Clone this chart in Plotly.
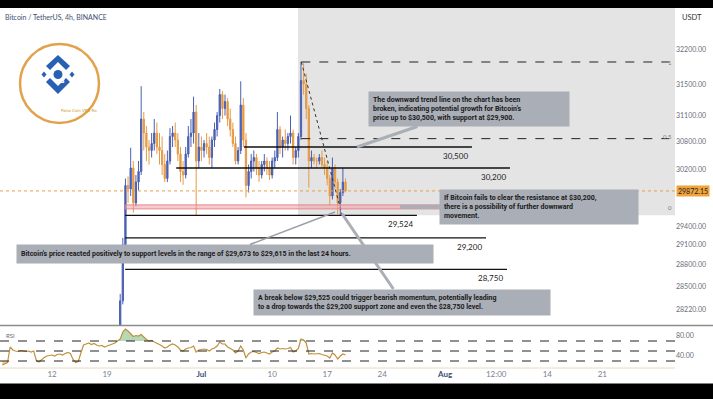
import pandas as pd
import plotly.graph_objects as go

# ---------------- data ----------------
candle_start = "2023-06-20 16:00"
first_open = 27100
highs = [28400, 29200, 30050, 30080, 30490, 30300, 30100, 30300, 31370, 31000,
         30800, 30600, 30700, 30900, 30850, 30700, 30650, 30400, 30450, 30770,
         30800, 30850, 30700, 30500, 30300, 30500, 30800, 30900, 31220, 31100,
         30700, 30650, 30600, 30700, 30650, 30650, 30850, 31000, 31330, 31300,
         31250, 31200, 31050, 30850, 30650, 30500, 31440, 31200, 30700, 30250,
         30400, 30450, 30400, 30300, 30300, 30400, 30350, 30300, 30350, 30450,
         31000, 30800, 30650, 30750, 30700, 30950, 30750, 30500, 30700, 31720,
         31700, 31550, 31100, 30450, 30400, 30350, 30400, 30450, 30350, 30300,
         30100, 30350, 30250, 30050, 29900, 30200, 30050]
lows = [27000, 28250, 28950, 29700, 29800, 29560, 29650, 29880, 30100, 30450,
        30300, 30250, 30350, 30450, 30400, 30250, 30100, 30000, 30000, 30250,
        30500, 30500, 30300, 30000, 29960, 30050, 30350, 30500, 30550, 29520,
        30200, 30300, 30350, 30400, 30250, 30200, 30500, 30650, 30850, 30900,
        30950, 30800, 30650, 30500, 30250, 30250, 30400, 30500, 29780, 29850,
        30050, 30150, 30100, 30000, 30050, 30150, 30100, 30030, 30050, 30200,
        30300, 30400, 30350, 30450, 30450, 30550, 30250, 30250, 30350, 30600,
        31250, 30900, 29920, 30200, 30250, 30200, 30250, 30200, 30100, 29950,
        29670, 29750, 29900, 29540, 29520, 29800, 29850]
closes = [28300, 29100, 29950, 29900, 30200, 29700, 30000, 30150, 30900, 30700,
          30500, 30450, 30550, 30700, 30500, 30450, 30250, 30050, 30300, 30650,
          30700, 30600, 30400, 30150, 30100, 30400, 30650, 30700, 31000, 30300,
          30500, 30450, 30550, 30500, 30350, 30600, 30750, 30950, 31250, 31050,
          31150, 30900, 30750, 30550, 30300, 30450, 31100, 30600, 29950, 30150,
          30300, 30350, 30200, 30100, 30250, 30300, 30200, 30100, 30300, 30350,
          30750, 30500, 30600, 30550, 30650, 30700, 30350, 30450, 30650, 31450,
          31400, 31050, 30300, 30350, 30300, 30300, 30350, 30250, 30200, 30050,
          29800, 30200, 30000, 29700, 29850, 30000, 29872.15]

rsi_start = "2023-06-05 16:00"
rsi = [22, 24, 27, 58, 52, 50, 49, 51, 50, 49, 50, 48, 50, 31, 28, 33,
       37, 40, 41, 42, 40, 43, 44, 42, 45, 47, 45, 33, 27, 29, 46,
       62, 64, 66, 63, 65, 62, 60, 61, 58, 60, 62, 64, 66, 70, 74,
       88, 94, 90, 84, 79, 81, 80, 83, 77, 73, 70, 71, 68, 66, 63,
       60, 56, 58, 62, 64, 62, 58, 52, 50, 54, 56, 57, 60, 48, 52,
       53, 54, 53, 50, 54, 56, 60, 68, 64, 64, 58, 55, 52, 46, 50,
       60, 52, 36, 44, 48, 49, 47, 45, 47, 48, 46, 44, 48, 50, 56,
       54, 55, 54, 55, 57, 48, 50, 55, 74, 72, 66, 44, 45, 44, 44,
       45, 43, 42, 40, 36, 46, 42, 34, 40, 44, 42]

last_price = 29872.15
levels = [30500, 30200, 29524, 29200, 28750]
level_labels = ["30,500", "30,200", "29,524", "29,200", "28,750"]
level_start = ["2023-07-06 10:00", "2023-06-27 19:00", "2023-06-21 07:00",
               "2023-06-21 07:00", "2023-06-21 07:00"]
level_end = ["2023-08-04 10:00", "2023-08-09 06:00", "2023-07-28 10:00",
             "2023-08-06 05:00", "2023-08-08 21:00"]
zone_low, zone_high = 29615, 29673
fib_high, fib_mid, fib_low = 31716, 30620, 29524

price_ticks = ["32200.00", "31500.00", "31100.00", "30800.00", "30200.00",
               "29400.00", "29100.00", "28800.00", "28500.00", "28220.00"]
price_tick_pos = [31887, 31387, 30944, 30572, 30171, 29356, 29099, 28813, 28498, 28169]

date_tick_labels = ["12", "19", "Jul", "10", "17", "24", "Aug", "12:00", "14", "21"]
date_tick_pos = ["2023-06-12", "2023-06-19", "2023-07-01", "2023-07-10", "2023-07-17",
                 "2023-07-24", "2023-08-01", "2023-08-07 12:00", "2023-08-14", "2023-08-21"]

# ---------------- build ----------------
ct = pd.date_range(candle_start, periods=len(closes), freq="8h")
opens = [first_open] + closes[:-1]
rt = pd.date_range(rsi_start, periods=len(rsi), freq="8h")

X0, X1 = "2023-06-05 09:00", "2023-08-30 06:00"
W, H = 675, 360  # plot area in px
def px(x): return x / W
def py(y): return (368 - y) / H
def P(x, y): return f"{px(x):.4f},{py(y):.4f}"

fig = go.Figure()

fig.add_trace(go.Candlestick(
    x=ct, open=opens, high=highs, low=lows, close=closes,
    increasing=dict(line=dict(color="#4b60b2", width=1), fillcolor="#4b60b2"),
    decreasing=dict(line=dict(color="#e59a45", width=1), fillcolor="#e59a45"),
    whiskerwidth=0, xaxis="x", yaxis="y", hoverinfo="skip"))

# RSI fills
fig.add_trace(go.Scatter(x=rt, y=[70] * len(rsi), mode="lines", line=dict(width=0),
                         yaxis="y2", hoverinfo="skip"))
fig.add_trace(go.Scatter(x=rt, y=[max(v, 70) for v in rsi], mode="lines", line=dict(width=0),
                         fill="tonexty", fillcolor="rgba(120,185,120,0.55)", yaxis="y2", hoverinfo="skip"))
fig.add_trace(go.Scatter(x=rt, y=[30] * len(rsi), mode="lines", line=dict(width=0),
                         yaxis="y2", hoverinfo="skip"))
fig.add_trace(go.Scatter(x=rt, y=[min(v, 30) for v in rsi], mode="lines", line=dict(width=0),
                         fill="tonexty", fillcolor="rgba(240,165,110,0.6)", yaxis="y2", hoverinfo="skip"))
fig.add_trace(go.Scatter(x=rt, y=rsi, mode="lines", line=dict(color="#c0903c", width=1.2),
                         yaxis="y2", hoverinfo="skip"))

shapes = []
# white page area (paper background is black, giving the black bands top and bottom)
shapes.append(dict(type="rect", xref="paper", yref="paper", x0=-0.05, x1=1.2, y0=py(383.5), y1=1.0,
                   fillcolor="white", line=dict(width=0), layer="below"))
# fib gray area
shapes.append(dict(type="rect", xref="x", yref="y", x0="2023-07-13 07:00", x1=X1,
                   y0=fib_low, y1=33000, fillcolor="#e4e4e4", line=dict(width=0), layer="below"))
for lv in (fib_high, fib_mid):
    shapes.append(dict(type="line", xref="x", yref="y", x0="2023-07-13 17:00", x1="2023-08-29 12:00",
                       y0=lv, y1=lv, line=dict(color="#222", width=1, dash="dash")))
shapes.append(dict(type="line", xref="x", yref="y", x0="2023-07-13 17:00", x1="2023-07-18 22:00",
                   y0=fib_high, y1=fib_low, line=dict(color="#333", width=1, dash="dot")))
# pink zone
shapes.append(dict(type="rect", xref="x", yref="y", x0="2023-06-21 07:00", x1="2023-07-31 09:00",
                   y0=zone_low, y1=zone_high, fillcolor="rgba(240,160,165,0.55)",
                   line=dict(color="rgba(225,120,125,0.8)", width=1)))
# levels
for lv, x0, x1 in zip(levels, level_start, level_end):
    shapes.append(dict(type="line", xref="x", yref="y", x0=x0, x1=x1, y0=lv, y1=lv,
                       line=dict(color="#111", width=1.3)))
# current price dotted line
shapes.append(dict(type="line", xref="paper", yref="y", x0=0, x1=1, y0=last_price, y1=last_price,
                   line=dict(color="#e8a040", width=1, dash="dot")))
# RSI bands
for lv in (70, 50, 30):
    shapes.append(dict(type="line", xref="paper", yref="y2", x0=0, x1=1, y0=lv, y1=lv,
                       line=dict(color="#222", width=1, dash="dash")))
# separators
shapes.append(dict(type="line", xref="paper", yref="paper", x0=0, x1=713 / W, y0=py(325.5), y1=py(325.5),
                   line=dict(color="#8c8c8c", width=1.5)))
shapes.append(dict(type="line", xref="paper", yref="paper", x0=0, x1=1, y0=py(368), y1=py(368),
                   line=dict(color="#ead9c4", width=1)))
# logo
shapes.append(dict(type="circle", xref="paper", yref="paper", x0=px(20), x1=px(99), y0=py(123), y1=py(44),
                   line=dict(color="#e2a24c", width=2.5), fillcolor="white"))
blue = "#2861b4"
shapes.append(dict(type="path", xref="paper", yref="paper", fillcolor=blue, line=dict(width=0),
                   path=f"M{P(58,55)} L{P(70,66)} L{P(66,70)} L{P(58,62)} L{P(50,70)} L{P(46,66)} Z"))
shapes.append(dict(type="path", xref="paper", yref="paper", fillcolor=blue, line=dict(width=0),
                   path=f"M{P(46,82)} L{P(50,78)} L{P(58,86)} L{P(66,78)} L{P(70,82)} L{P(58,94)} Z"))
shapes.append(dict(type="circle", xref="paper", yref="paper", x0=px(53.5), x1=px(62.5), y0=py(79), y1=py(70),
                   fillcolor=blue, line=dict(width=0)))
for cx in (44, 72):
    shapes.append(dict(type="path", xref="paper", yref="paper", fillcolor=blue, line=dict(width=0),
                       path=f"M{P(cx,71.5)} L{P(cx+2.5,74.5)} L{P(cx,77.5)} L{P(cx-2.5,74.5)} Z"))

ann = []
ann.append(dict(xref="paper", yref="paper", x=px(3), y=py(17), xanchor="left", yanchor="middle",
                text="Bitcoin / TetherUS, 4h, BINANCE", showarrow=False,
                font=dict(size=7, color="#3d4f72", family="Lato")))
ann.append(dict(xref="paper", yref="paper", x=px(680), y=py(17), xanchor="left", yanchor="middle",
                text="USDT", showarrow=False, font=dict(size=7.5, color="#333", family="Lato")))
ann.append(dict(xref="paper", yref="paper", x=px(4), y=py(335), xanchor="left", yanchor="middle",
                text="RSI", showarrow=False, font=dict(size=6, color="#667", family="Lato")))
ann.append(dict(xref="paper", yref="paper", x=px(58), y=py(74.5), text="<b>B</b>", showarrow=False,
                font=dict(size=6, color="white", family="DejaVu Sans")))
ann.append(dict(xref="paper", yref="paper", x=px(59), y=py(106), text="Pana Coin VBB Ro", showarrow=False,
                font=dict(size=4, color="#c8962a", family="DejaVu Sans")))
ann.append(dict(xref="paper", yref="y", x=px(676), y=last_price, xanchor="left", yanchor="middle",
                text="29872.15", showarrow=False, bgcolor="#f0a33a", borderpad=1,
                font=dict(size=7, color="#222", family="Lato")))
# fib labels
for lab, yy in (("1", 62), ("0.5", 137), ("0", 207)):
    ann.append(dict(xref="paper", yref="paper", x=px(674), y=py(yy), xanchor="right", yanchor="middle",
                    text=lab, showarrow=False, font=dict(size=6, color="#777", family="Lato")))
# level labels
for lv, lab, x1 in zip(levels, level_labels, level_end):
    ann.append(dict(xref="x", yref="y", x=x1, y=lv, xanchor="right", yanchor="middle", yshift=-9, xshift=-2,
                    text=lab, showarrow=False, font=dict(size=8, color="#222", family="Lato")))

box = "#aaaeb6"
cfont = dict(size=7, color="#1a1a1a", family="Roboto")
ann.append(dict(xref="x", yref="y", x="2023-07-20 19:00", y=30500, ax=112, ay=-38,
                text="<b>The downward trend line on the chart has been<br>broken, indicating potential growth for Bitcoin's<br>price up to $30,500, with support at $29,900.</b>",
                align="left", width=192, height=26, bgcolor=box, borderpad=4, font=cfont,
                showarrow=True, arrowhead=0, arrowwidth=3, arrowcolor=box))
ann.append(dict(xref="x", yref="y", x="2023-07-26 06:00", y=29644, ax=139, ay=0,
                text="<b>If Bitcoin fails to clear the resistance at $30,200,<br>there is a possibility of further downward<br>movement.</b>",
                align="left", width=190, height=26, bgcolor=box, borderpad=4, font=cfont,
                showarrow=True, arrowhead=0, arrowwidth=4, arrowcolor=box))
ann.append(dict(xref="x", yref="y", x="2023-07-18 00:00", y=29571, ax=-110, ay=42,
                text="<b>Bitcoin's price reacted positively to support levels in the range of $29,673 to $29,615 in the last 24 hours.</b>",
                align="left", width=408, height=10, bgcolor=box, borderpad=4, font=cfont,
                showarrow=True, arrowhead=0, arrowwidth=1.5, arrowcolor="#9a9ea6"))
ann.append(dict(xref="x", yref="y", x="2023-07-18 22:00", y=29542, ax=60, ay=88,
                text="<b>A break below $29,525 could trigger bearish momentum, potentially leading<br>to a drop towards the $29,200 support zone and even the $28,750 level.</b>",
                align="left", width=288, height=17, bgcolor=box, borderpad=4, font=cfont,
                showarrow=True, arrowhead=0, arrowwidth=3, arrowcolor=box))

tick_text = []
for t in date_tick_labels:
    if t in ("Jul", "Aug"):
        tick_text.append(f"<b><span style='color:#3d4e6e'>{t}</span></b>")
    else:
        tick_text.append(f"<span style='color:#7a8090'>{t}</span>")

fig.update_layout(
    template="none",
    width=713, height=399, margin=dict(l=0, r=38, t=8, b=31, pad=0, autoexpand=False),
    paper_bgcolor="black", plot_bgcolor="white", showlegend=False,
    xaxis=dict(domain=[0, 1], anchor="y2", type="date", range=[X0, X1], automargin=False,
               tickvals=date_tick_pos, ticktext=tick_text, showgrid=False, zeroline=False,
               showline=False, ticks="", tickfont=dict(size=8, family="Lato"),
               rangeslider=dict(visible=False)),
    yaxis=dict(domain=[py(325), 1], anchor="x", side="right", range=[27955, 32488], automargin=False,
               tickvals=price_tick_pos, ticktext=price_ticks, showgrid=False, zeroline=False,
               showline=False, ticks="", tickfont=dict(size=7, color="#6a6e78", family="Lato")),
    yaxis2=dict(domain=[0, py(327)], anchor="x", side="right", range=[16, 98], automargin=False,
                tickvals=[80, 40], ticktext=["80.00", "40.00"], showgrid=False, zeroline=False,
                showline=False, ticks="", tickfont=dict(size=7, color="#6a6e78", family="Lato")),
    shapes=shapes, annotations=ann,
)

fig.write_html("out.html", config={"displayModeBar": False},
               post_script="document.body.style.margin='0px';document.body.style.overflow='hidden';document.body.style.background='black';")
